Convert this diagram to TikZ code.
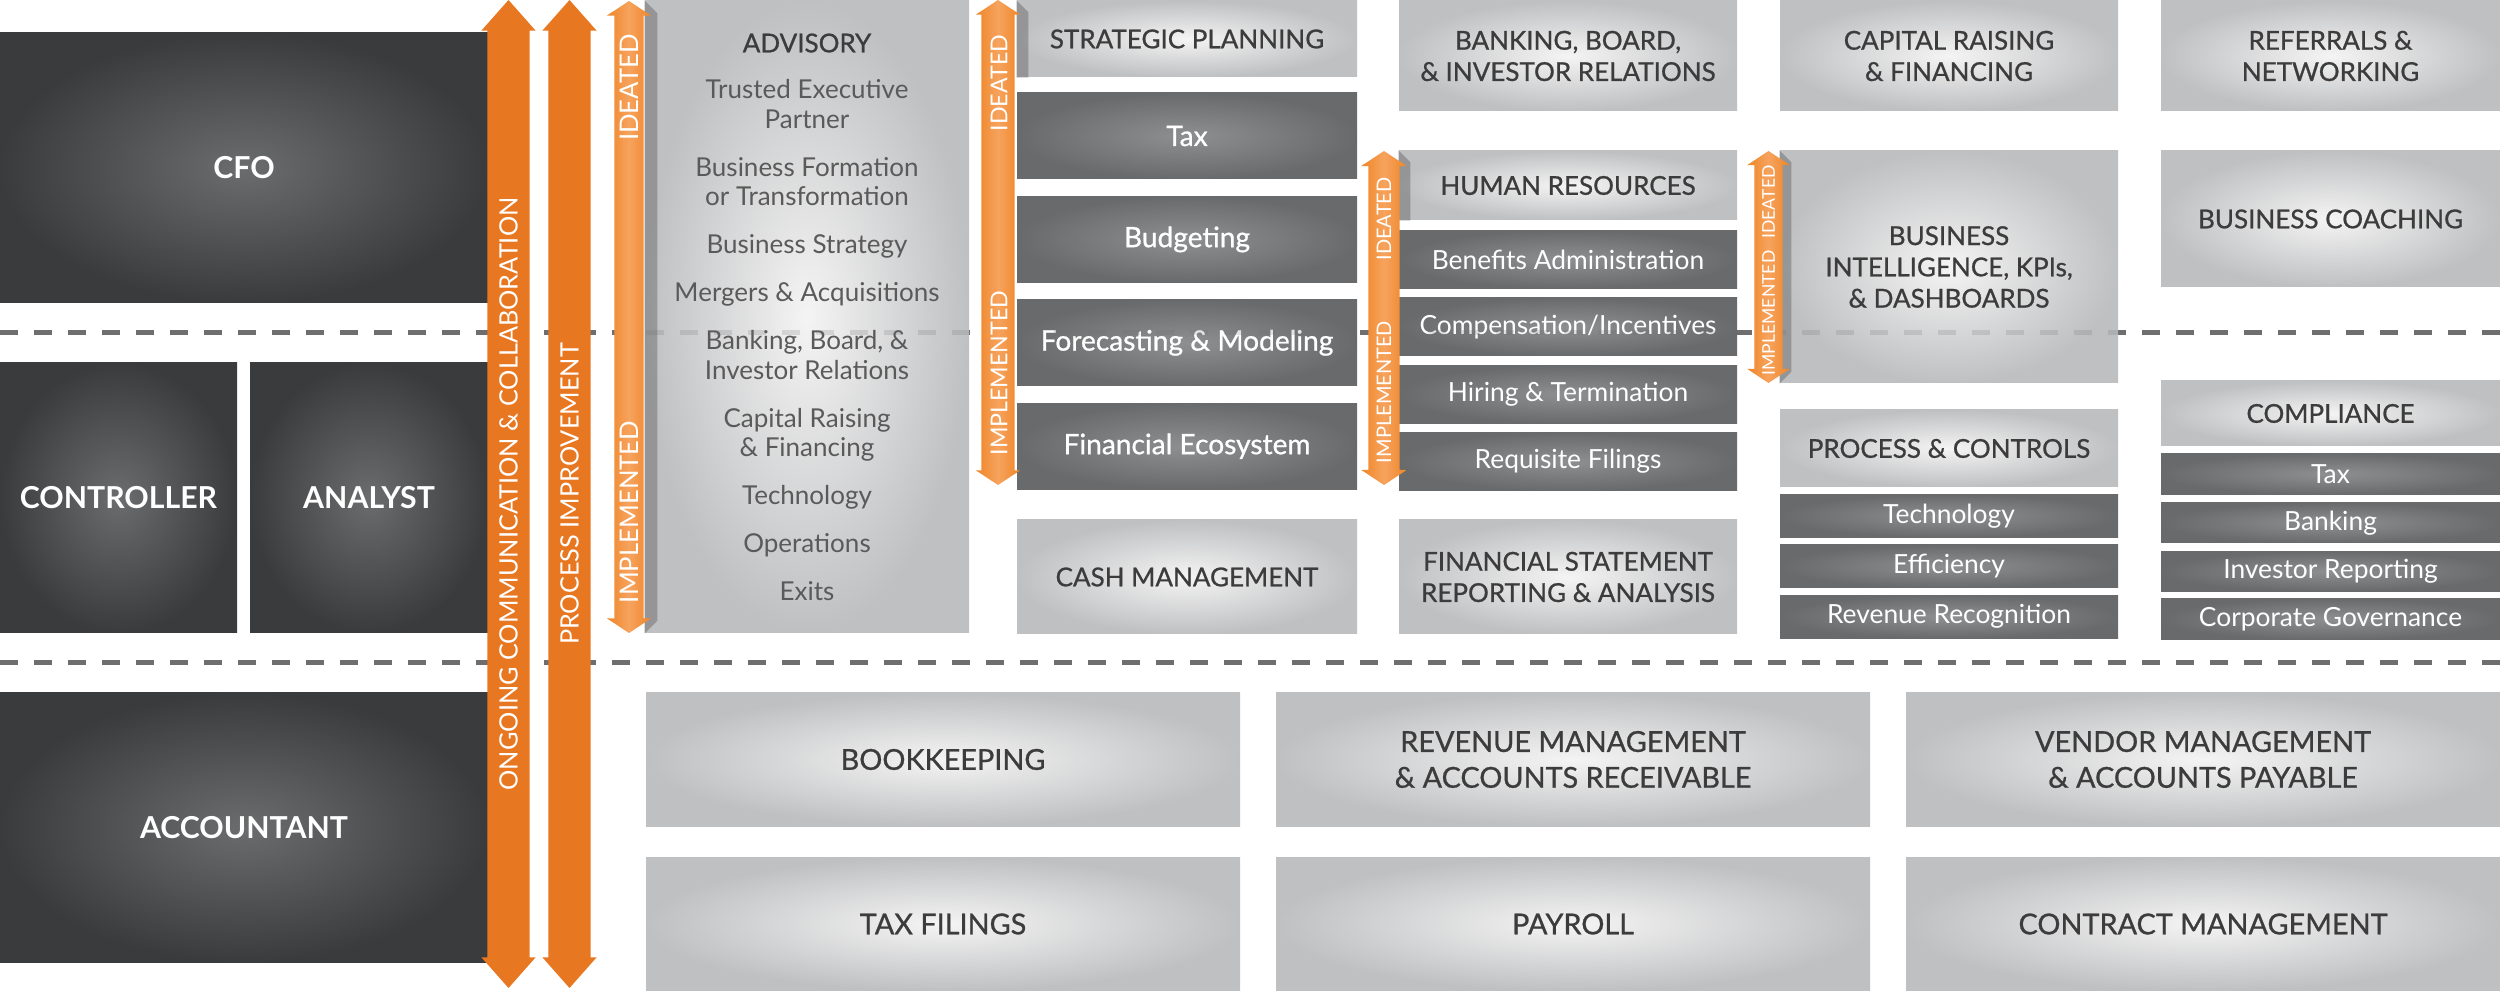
\documentclass[tikz,border=0pt]{standalone}
\usepackage{fontspec}
\setmainfont{Lato}
\newfontfamily\semib{Lato}[FakeBold=0.8]
\usetikzlibrary{positioning}
\usetikzlibrary{shapes.arrows}
\definecolor{lightc}{HTML}{F4F4F4}
\definecolor{lighte}{HTML}{BFC0C2}
\definecolor{darkm}{HTML}{6B6C6E}
\definecolor{darkc}{HTML}{3A3B3C}
\definecolor{midc}{HTML}{8E8F91}
\definecolor{mide}{HTML}{696A6C}
\definecolor{textc}{HTML}{3C3C3C}
\definecolor{listc}{HTML}{5A5A5A}
\definecolor{orng}{HTML}{E87722}
\definecolor{orngb}{HTML}{EF8526}
\definecolor{orngl}{HTML}{F6A35E}
\definecolor{sepc}{HTML}{6E6E6E}
\tikzset{	node distance=0.16cm,
	box/.style={
		rectangle,
		inner sep=0pt,
		align=center},
	lightbox/.style={box,
		inner color=lightc,
		outer color=lighte,
		text=textc,
		font=\semib\fontsize{7.4}{8.9}\selectfont},
	darkbox/.style={box,
		inner color=darkm,
		outer color=darkc,
		text=white,
		font=\bfseries\fontsize{8.6}{10}\selectfont},
	midbox/.style={box,
		inner color=midc,
		outer color=mide,
		text=white,
		font=\fontsize{7.5}{9}\selectfont},
	bigmid/.style={midbox,
		font=\semib\fontsize{8}{9}\selectfont},
	bottombox/.style={lightbox,
		minimum width=5.94cm,
		font=\semib\fontsize{8.2}{10.2}\selectfont},
	colB/.style={minimum width=3.40cm},
	colC/.style={minimum width=3.38cm},
	colD/.style={minimum width=3.38cm},
	colE/.style={minimum width=3.39cm},
	bigarrow/.style={
		shape=double arrow,
		fill=orng,
		inner xsep=0pt,
		inner ysep=0.115cm,
		text height=0.18cm,
		text depth=0cm,
		rotate=90,
		text=white,
		minimum width=0.53cm,
		double arrow head extend=0.06cm,
		double arrow tip angle=83,
		font=\fontsize{7.2}{8}\selectfont},
	idarrow/.style={
		shape=double arrow,
		inner xsep=0pt,
		text height=0cm,
		text depth=0cm,
		rotate=90,
		left color=orngb,
		right color=orngb,
		middle color=orngl,
		double arrow tip angle=113},
	tag/.style={
		rotate=90,
		inner sep=0pt,
		text=white},
	sepline/.style={
		sepc,
		line width=0.05cm,
		dash pattern=on 0.18cm off 0.16cm},
	fold/.style={
		fill=black,
		opacity=0.22}
}
\begin{document}
\begin{tikzpicture}
	\useasboundingbox (0,0) rectangle (25,-9.91);
	\draw[sepline] (0,-3.33) -- (25,-3.33);
	\draw[sepline] (0,-6.63) -- (25,-6.63);
	% roles
	\node[darkbox, minimum width=4.88cm, minimum height=2.70cm] (cfo) at (2.44,-1.68) {CFO};
	\node[darkbox, minimum width=2.37cm, minimum height=2.70cm] (controller) at (1.185,-4.98) {CONTROLLER};
	\node[darkbox, minimum width=2.38cm, minimum height=2.70cm] (analyst) at (3.69,-4.98) {ANALYST};
	\node[darkbox, minimum width=4.88cm, minimum height=2.69cm] (accountant) at (2.44,-8.275) {ACCOUNTANT};
	% advisory
	\node[lightbox, minimum width=3.24cm, minimum height=6.32cm, text=listc, font=\fontsize{7.4}{8.5}\selectfont] (advisory) at (8.07,-3.17)
		{{\semib\color{textc}ADVISORY}\\[4.6pt]
		Trusted Executive\\Partner\\[5.1pt]
		Business Formation\\or Transformation\\[5.1pt]
		Business Strategy\\[5.1pt]
		Mergers \& Acquisitions\\[5.1pt]
		Banking, Board, \&\\Investor Relations\\[5.1pt]
		Capital Raising\\\& Financing\\[5.1pt]
		Technology\\[5.1pt]
		Operations\\[5.1pt]
		Exits};
	% strategic planning column
	\node[lightbox, colB, minimum height=0.76cm] (strat) at (11.87,-0.39) {STRATEGIC PLANNING};
	\node[bigmid, colB, minimum height=0.86cm] (tax) at (11.87,-1.36) {Tax};
	\node[bigmid, colB, minimum height=0.86cm, below=of tax] (budget) {Budgeting};
	\node[bigmid, colB, minimum height=0.86cm, below=of budget] (forecast) {Forecasting \& Modeling};
	\node[bigmid, colB, minimum height=0.86cm, below=of forecast] (ecosystem) {Financial Ecosystem};
	\node[lightbox, colB, minimum height=1.14cm] (cash) at (11.87,-5.77) {CASH MANAGEMENT};
	% human resources column
	\node[lightbox, colC, minimum height=1.10cm] (banking) at (15.68,-0.56) {BANKING, BOARD,\\\& INVESTOR RELATIONS};
	\node[lightbox, colC, minimum height=0.69cm] (hr) at (15.68,-1.855) {HUMAN RESOURCES};
	\node[midbox, colC, minimum height=0.58cm, below=0.09cm of hr] (benefits) {Benefits Administration};
	\node[midbox, colC, minimum height=0.58cm, below=0.08cm of benefits] (comp) {Compensation/Incentives};
	\node[midbox, colC, minimum height=0.58cm, below=0.08cm of comp] (hiring) {Hiring \& Termination};
	\node[midbox, colC, minimum height=0.58cm, below=0.08cm of hiring] (filings) {Requisite Filings};
	\node[lightbox, colC, minimum height=1.14cm] (fsra) at (15.68,-5.77) {FINANCIAL STATEMENT\\REPORTING \& ANALYSIS};
	% intelligence column
	\node[lightbox, colD, minimum height=1.10cm] (capital) at (19.49,-0.56) {CAPITAL RAISING\\\& FINANCING};
	\node[lightbox, colD, minimum height=2.32cm] (bi) at (19.49,-2.67) {BUSINESS\\INTELLIGENCE, KPIs,\\\& DASHBOARDS};
	\node[lightbox, colD, minimum height=0.77cm] (process) at (19.49,-4.485) {PROCESS \& CONTROLS};
	\node[midbox, colD, minimum height=0.43cm, below=0.06cm of process] (techno) {Technology};
	\node[midbox, colD, minimum height=0.43cm, below=0.06cm of techno] (efficiency) {Efficiency};
	\node[midbox, colD, minimum height=0.43cm, below=0.06cm of efficiency] (revrec) {Revenue Recognition};
	% coaching column
	\node[lightbox, colE, minimum height=1.10cm] (referrals) at (23.305,-0.56) {REFERRALS \&\\NETWORKING};
	\node[lightbox, colE, minimum height=1.36cm] (coaching) at (23.305,-2.19) {BUSINESS COACHING};
	\node[lightbox, colE, minimum height=0.65cm] (compliance) at (23.305,-4.135) {COMPLIANCE};
	\node[midbox, colE, minimum height=0.41cm, below=0.06cm of compliance] (ctax) {Tax};
	\node[midbox, colE, minimum height=0.40cm, below=0.07cm of ctax] (cbank) {Banking};
	\node[midbox, colE, minimum height=0.40cm, below=0.07cm of cbank] (investor) {Investor Reporting};
	\node[midbox, colE, minimum height=0.41cm, below=0.06cm of investor] (governance) {Corporate Governance};
	% accountant row
	\node[bottombox, minimum height=1.33cm] (bookkeeping) at (9.43,-7.595) {BOOKKEEPING};
	\node[bottombox, minimum height=1.34cm] (taxfilings) at (9.43,-9.24) {TAX FILINGS};
	\node[bottombox, minimum height=1.33cm] (revenue) at (15.73,-7.595) {REVENUE MANAGEMENT\\\& ACCOUNTS RECEIVABLE};
	\node[bottombox, minimum height=1.34cm] (payroll) at (15.73,-9.24) {PAYROLL};
	\node[bottombox, minimum height=1.33cm] (vendor) at (22.03,-7.595) {VENDOR MANAGEMENT\\\& ACCOUNTS PAYABLE};
	\node[bottombox, minimum height=1.34cm] (contract) at (22.03,-9.24) {CONTRACT MANAGEMENT};
	% folds beside the small arrows
	\fill[fold] (advisory.north west) -- ++(0.13,-0.13) -- ([shift={(0.13,0.13)}]advisory.south west) -- (advisory.south west) -- cycle;
	\fill[fold] (strat.north west) -- ++(0.12,-0.12) -- ([shift={(0.12,0)}]strat.south west) -- (strat.south west) -- cycle;
	\fill[fold] (hr.north west) -- ++(0.12,-0.12) -- ([shift={(0.12,0)}]hr.south west) -- (hr.south west) -- cycle;
	\fill[fold] (bi.north west) -- ++(0.12,-0.12) -- ([shift={(0.12,0.12)}]bi.south west) -- (bi.south west) -- cycle;
	\draw[sepline, opacity=0.2] (0,-3.33) -- (25,-3.33);
	% arrows
	\node[bigarrow, minimum height=9.88cm] (comm) at (5.085,-4.94) {ONGOING COMMUNICATION \& COLLABORATION};
	\node[bigarrow, minimum height=9.88cm] (improve) at (5.695,-4.94) {PROCESS IMPROVEMENT};
	\node[idarrow, minimum height=6.32cm, minimum width=0.43cm, inner ysep=0.14cm, double arrow head extend=0.075cm] (advarrow) at (6.29,-3.17) {};
	\node[idarrow, minimum height=4.85cm, minimum width=0.43cm, inner ysep=0.16cm, double arrow head extend=0.055cm] (stratarrow) at (9.98,-2.425) {};
	\node[idarrow, minimum height=3.34cm, minimum width=0.44cm, inner ysep=0.15cm, double arrow head extend=0.07cm] (hrarrow) at (13.84,-3.18) {};
	\node[idarrow, minimum height=2.32cm, minimum width=0.41cm, inner ysep=0.135cm, double arrow head extend=0.07cm] (biarrow) at (17.685,-2.67) {};
	\node[tag, font=\fontsize{7.3}{8}\selectfont] (advidea) at (6.29,-0.875) {IDEATED};
	\node[tag, font=\fontsize{7.3}{8}\selectfont] (advimpl) at (6.29,-5.12) {IMPLEMENTED};
	\node[tag, font=\fontsize{6.6}{7}\selectfont] (strididea) at (9.99,-0.83) {IDEATED};
	\node[tag, font=\fontsize{6.6}{7}\selectfont] (stratimpl) at (9.99,-3.73) {IMPLEMENTED};
	\node[tag, font=\fontsize{5.7}{6}\selectfont] (hridea) at (13.84,-2.19) {IDEATED};
	\node[tag, font=\fontsize{5.7}{6}\selectfont] (hrimpl) at (13.84,-3.92) {IMPLEMENTED};
	\node[tag, font=\fontsize{5}{6}\selectfont] (biidea) at (17.685,-2.02) {IDEATED};
	\node[tag, font=\fontsize{5}{6}\selectfont] (biimpl) at (17.685,-3.13) {IMPLEMENTED};
\end{tikzpicture}
\end{document}
